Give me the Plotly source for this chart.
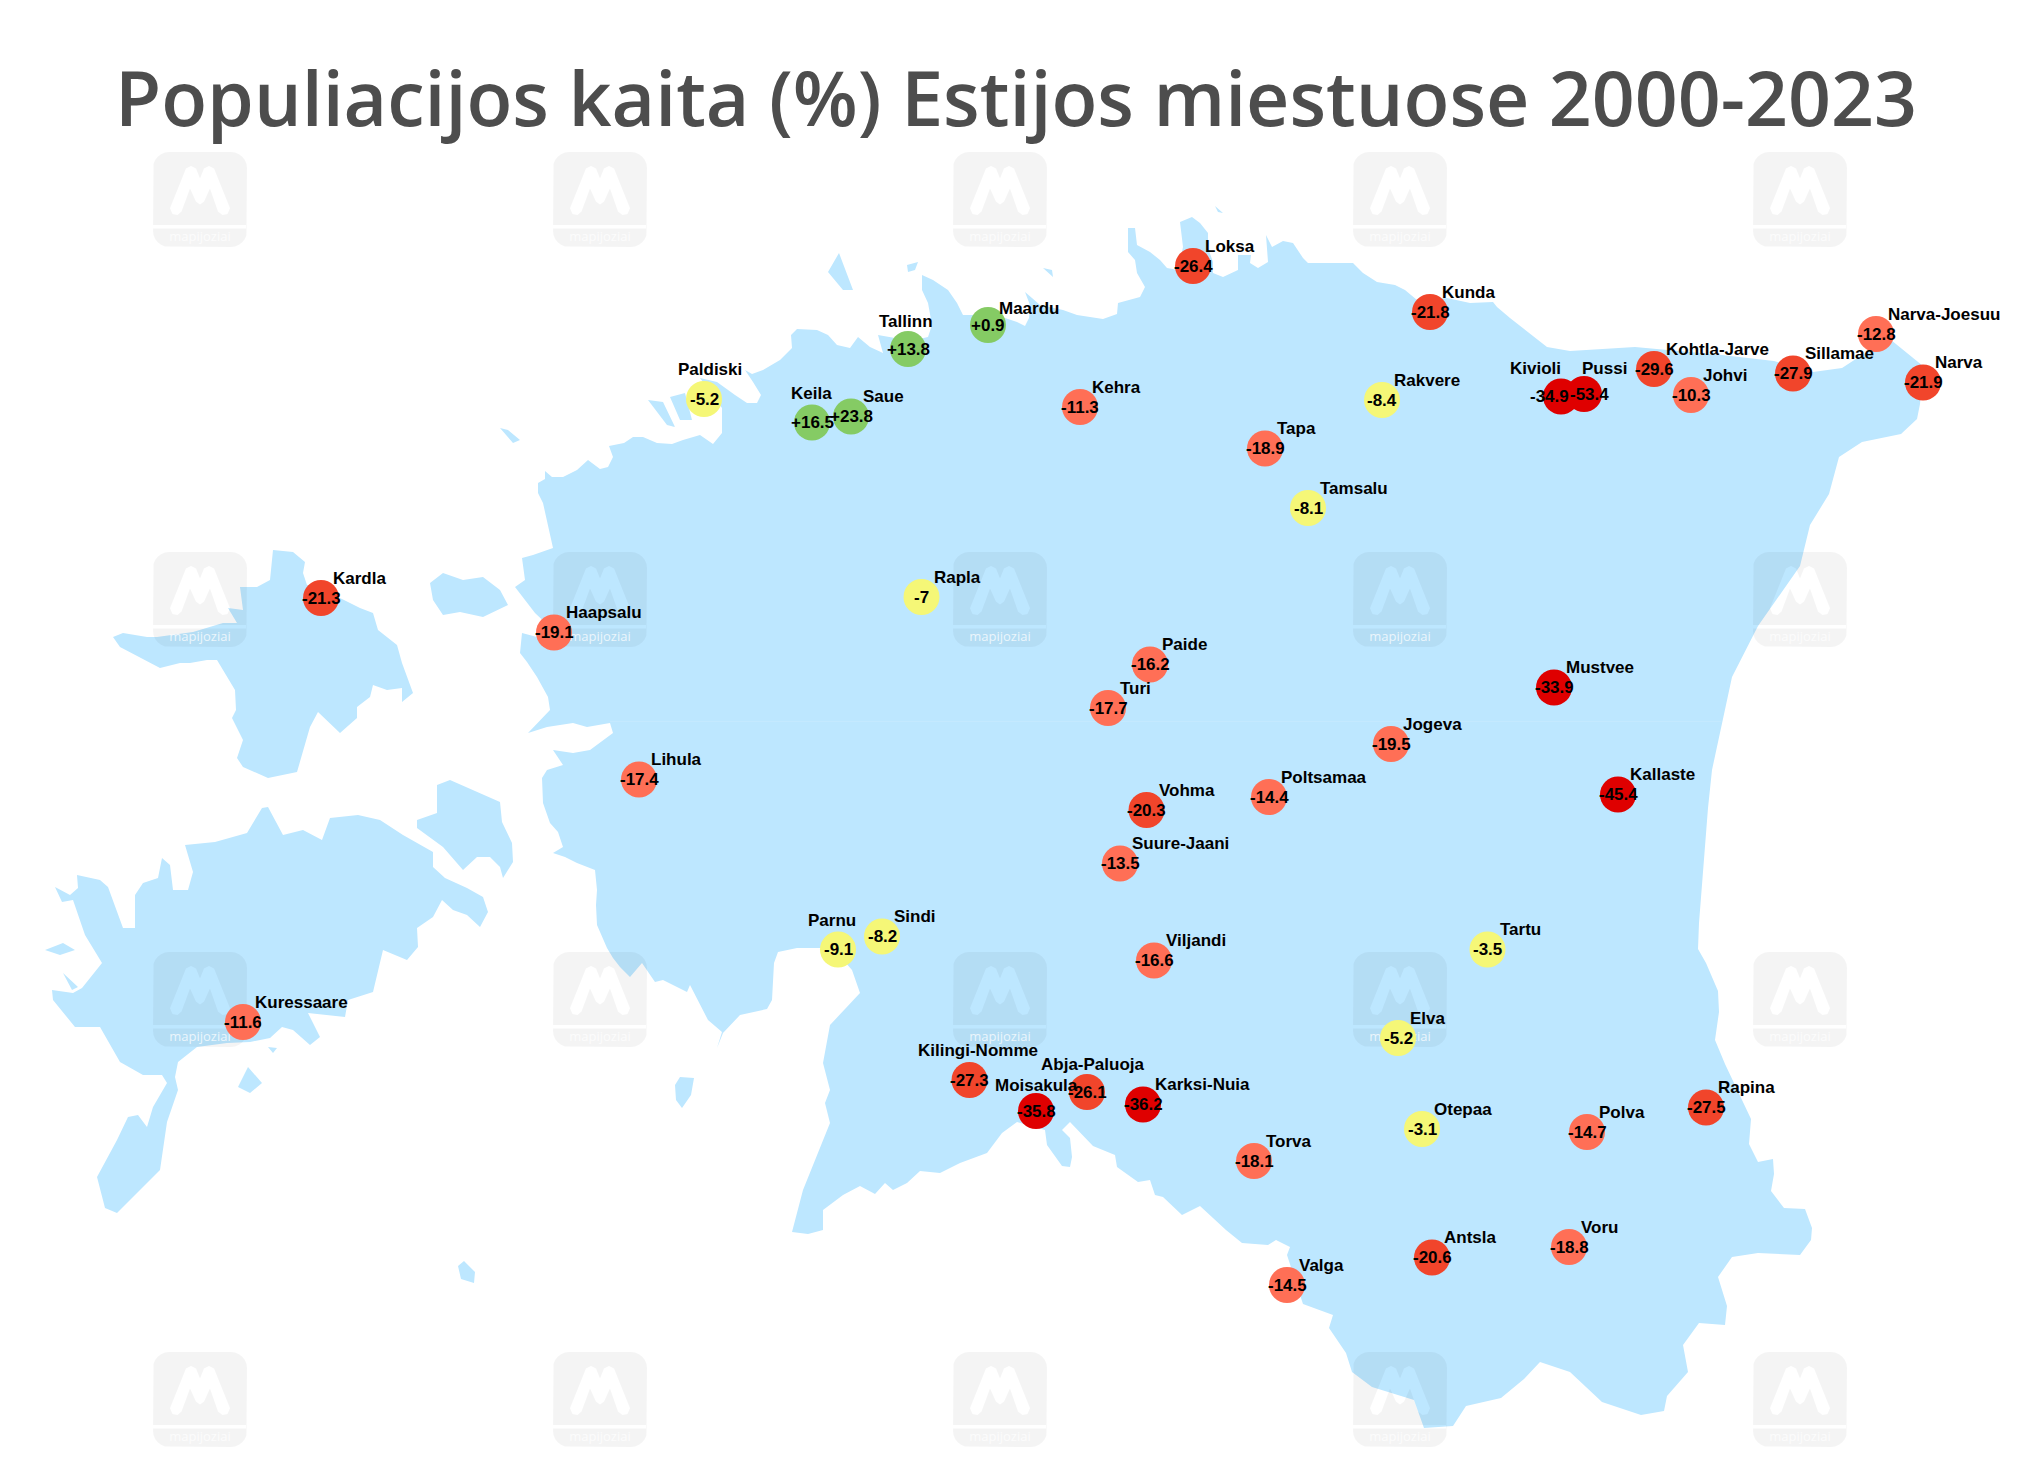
import numpy as np
import plotly.graph_objects as go

# towns (map_x / map_y are map units of the drawing)
city_names = ["Kardla", "Haapsalu", "Paldiski", "Keila", "Saue", "Tallinn", "Maardu", "Rapla", "Lihula",
              "Loksa", "Kunda", "Kehra", "Rakvere", "Tapa", "Tamsalu", "Kivioli", "Pussi", "Kohtla-Jarve",
              "Johvi", "Sillamae", "Narva-Joesuu", "Narva", "Paide", "Turi", "Mustvee", "Jogeva", "Poltsamaa",
              "Kallaste", "Vohma", "Suure-Jaani", "Viljandi", "Tartu", "Elva", "Abja-Paluoja", "Karksi-Nuia",
              "Moisakula", "Otepaa", "Polva", "Rapina", "Torva", "Antsla", "Voru", "Valga", "Kuressaare",
              "Parnu", "Sindi", "Kilingi-Nomme"]
pct_change = [-21.3, -19.1, -5.2, 16.5, 23.8, 13.8, 0.9, -7, -17.4,
              -26.4, -21.8, -11.3, -8.4, -18.9, -8.1, -34.9, -53.4, -29.6,
              -10.3, -27.9, -12.8, -21.9, -16.2, -17.7, -33.9, -19.5, -14.4,
              -45.4, -20.3, -13.5, -16.6, -3.5, -5.2, -26.1, -36.2,
              -35.8, -3.1, -14.7, -27.5, -18.1, -20.6, -18.8, -14.5, -11.6,
              -9.1, -8.2, -27.3]
map_x = [321, 554, 704, 812, 851, 908, 988, 921.5, 639,
         1193, 1430, 1080, 1382, 1265, 1308, 1561, 1584, 1654,
         1691, 1793, 1876, 1923, 1150, 1108, 1554, 1391, 1269,
         1618, 1146.5, 1120, 1154, 1487.5, 1398, 1087, 1143,
         1036, 1422, 1587, 1706, 1254, 1432, 1569, 1287, 243,
         838, 882, 969.5]
map_y = [598, 632.5, 399, 422.5, 416.5, 349, 325, 597, 779.5,
         266, 312, 407, 400, 448.5, 508, 396.5, 394, 369,
         395, 373.5, 334, 382.5, 664.5, 708, 687.5, 744, 797,
         794.5, 810, 863.5, 960.5, 949.5, 1038, 1092, 1104.5,
         1111, 1129, 1132, 1107.5, 1161, 1257.5, 1247, 1285, 1022,
         949.5, 936.5, 1080]

# coast outlines
mainland = [
    (553, 548), (548, 527), (543, 503), (538, 493), (538, 483), (545, 479), (545, 471), (552, 477), (563, 477),
    (577, 470), (588, 460), (600, 469), (608, 467), (613, 457), (609, 446), (624, 443), (633, 437), (643, 437),
    (657, 443), (672, 444), (683, 440), (700, 435), (713, 444), (722, 433), (722, 423), (722, 408), (700, 378),
    (717, 382), (735, 395), (747, 403), (757, 403), (761, 395), (753, 382), (745, 370), (752, 374), (763, 370),
    (780, 360), (792, 348), (791, 335), (797, 329), (817, 330), (828, 335), (837, 345), (850, 348), (858, 337),
    (870, 347), (883, 353), (878, 335), (895, 338), (905, 345), (915, 340), (928, 337), (932, 325), (928, 303),
    (922, 290), (922, 275), (933, 280), (948, 290), (957, 303), (963, 315), (973, 315), (990, 318), (1005, 318),
    (1017, 322), (1025, 326), (1029, 318), (1030, 305), (1025, 292), (1032, 298), (1040, 305), (1063, 310),
    (1077, 315), (1103, 319), (1117, 314), (1118, 303), (1140, 297), (1145, 287), (1137, 273), (1135, 260),
    (1128, 252), (1128, 228), (1135, 228), (1137, 245), (1150, 252), (1160, 260), (1167, 268), (1178, 270),
    (1183, 247), (1180, 222), (1192, 217), (1200, 223), (1208, 233), (1208, 248), (1213, 262), (1213, 273),
    (1223, 277), (1238, 270), (1238, 255), (1251, 255), (1250, 263), (1258, 268), (1268, 262), (1266, 235),
    (1272, 247), (1283, 241), (1293, 243), (1303, 258), (1308, 263), (1353, 263), (1363, 273), (1377, 282),
    (1395, 285), (1405, 290), (1417, 300), (1447, 298), (1470, 303), (1493, 302), (1497, 307), (1510, 318),
    (1531, 334), (1547, 347), (1570, 351), (1635, 347), (1722, 355), (1774, 361), (1813, 372), (1842, 368),
    (1862, 355), (1891, 340), (1923, 366), (1920, 404), (1917, 419), (1901, 434), (1862, 442), (1839, 457),
    (1829, 494), (1810, 525), (1800, 566), (1758, 626), (1732, 677), (1722, 724), (1712, 770), (1708, 808),
    (1703, 872), (1699, 923), (1698, 949), (1706, 963), (1718, 991), (1719, 1012), (1715, 1040), (1725, 1064),
    (1751, 1119), (1749, 1144), (1758, 1162), (1773, 1159), (1774, 1174), (1771, 1191), (1784, 1208), (1805, 1209),
    (1812, 1228), (1811, 1240), (1800, 1255), (1758, 1253), (1732, 1257), (1718, 1277), (1727, 1306), (1725, 1325),
    (1699, 1323), (1683, 1345), (1688, 1372), (1667, 1396), (1664, 1411), (1641, 1415), (1602, 1402), (1570, 1372),
    (1540, 1362), (1524, 1379), (1501, 1398), (1466, 1406), (1453, 1426), (1424, 1428), (1414, 1400), (1372, 1387),
    (1352, 1372), (1346, 1353), (1329, 1328), (1333, 1315), (1303, 1304), (1287, 1255), (1290, 1247), (1276, 1240),
    (1268, 1245), (1242, 1243), (1226, 1230), (1200, 1206), (1182, 1215), (1163, 1197), (1155, 1195), (1150, 1180),
    (1138, 1182), (1117, 1167), (1115, 1155), (1093, 1146), (1070, 1122), (1062, 1130), (1070, 1138), (1072, 1157),
    (1070, 1167), (1062, 1166), (1047, 1145), (1045, 1130), (1017, 1122), (1002, 1133), (987, 1153), (960, 1163),
    (940, 1173), (920, 1171), (907, 1183), (893, 1190), (885, 1183), (875, 1194), (860, 1186), (843, 1195),
    (823, 1210), (823, 1230), (808, 1234), (792, 1232), (803, 1190), (813, 1165), (830, 1123), (825, 1103),
    (830, 1090), (823, 1063), (830, 1025), (860, 993), (852, 970), (837, 953), (820, 948), (797, 948), (778, 952),
    (774, 963), (772, 1000), (767, 1009), (740, 1015), (723, 1033), (717, 1048), (722, 1032), (708, 1020),
    (690, 985), (687, 992), (663, 980), (655, 982), (642, 963), (638, 968), (630, 977), (620, 967), (613, 958),
    (607, 948), (597, 925), (596, 905), (597, 890), (595, 870), (577, 863), (565, 857), (553, 853), (563, 847),
    (558, 832), (550, 823), (543, 803), (542, 778), (547, 770), (563, 765), (553, 750), (573, 753), (590, 750),
    (613, 733), (610, 723), (587, 727), (573, 723), (547, 727), (528, 733), (550, 710), (548, 697), (537, 677),
    (527, 662), (520, 653), (522, 633), (537, 637), (553, 630), (563, 598), (580, 604), (590, 612), (565, 612),
    (553, 630), (535, 613), (515, 587), (525, 580), (522, 558), (533, 555),
]
hiiumaa = [
    (113, 637), (123, 633), (147, 637), (157, 637), (193, 632), (223, 623), (237, 623), (228, 608), (243, 610),
    (240, 587), (257, 587), (270, 580), (273, 550), (293, 552), (305, 562), (303, 573), (307, 585), (340, 598),
    (360, 608), (373, 613), (378, 630), (397, 645), (402, 663), (413, 693), (402, 702), (402, 688), (387, 690),
    (373, 685), (370, 697), (357, 707), (357, 718), (340, 733), (318, 712), (310, 727), (297, 772), (268, 778),
    (243, 767), (237, 758), (243, 740), (232, 718), (236, 710), (235, 690), (217, 660), (207, 660), (190, 663),
    (180, 663), (160, 668), (145, 660), (120, 647),
]
saaremaa = [
    (185, 845), (215, 842), (247, 833), (262, 808), (268, 807), (283, 835), (303, 830), (322, 840), (330, 818),
    (358, 815), (380, 820), (403, 835), (433, 852), (433, 867), (445, 878), (467, 888), (483, 897), (488, 912),
    (480, 927), (467, 915), (453, 910), (442, 900), (433, 917), (417, 928), (418, 947), (407, 960), (383, 950),
    (373, 992), (348, 1000), (345, 1017), (308, 1013), (320, 1037), (310, 1045), (293, 1030), (282, 1027),
    (270, 1038), (250, 1042), (227, 1043), (197, 1047), (178, 1062), (175, 1077), (178, 1090), (167, 1122),
    (160, 1170), (133, 1197), (117, 1213), (105, 1208), (97, 1177), (117, 1140), (128, 1117), (138, 1115),
    (147, 1127), (153, 1107), (167, 1083), (162, 1075), (143, 1075), (120, 1062), (100, 1027), (75, 1027),
    (53, 1000), (52, 990), (73, 993), (82, 988), (102, 963), (85, 935), (73, 900), (62, 902), (55, 887), (70, 895),
    (78, 888), (77, 875), (100, 880), (108, 887), (123, 928), (135, 928), (135, 895), (143, 883), (158, 878),
    (162, 858), (170, 865), (173, 890), (188, 890), (193, 872),
]
muhu = [(437, 785), (450, 780), (500, 802), (502, 822), (512, 843), (513, 862), (503, 878), (500, 867), (490, 857),
        (477, 857), (463, 870), (443, 847), (417, 828), (417, 820), (437, 813), (437, 800)]
vormsi = [(430, 583), (443, 573), (463, 580), (483, 577), (500, 590), (508, 605), (483, 617), (460, 612), (443, 615),
          (433, 600)]
small_islands = [
    [(45, 950), (63, 943), (75, 950), (60, 955)],
    [(63, 973), (78, 987), (72, 990)],
    [(458, 1266), (464, 1261), (475, 1272), (474, 1283), (461, 1279)],
    [(238, 1087), (248, 1067), (262, 1083), (250, 1093)],
    [(268, 1047), (277, 1048), (273, 1053)],
    [(675, 1085), (680, 1077), (694, 1078), (691, 1095), (682, 1108), (676, 1100)],
    [(828, 272), (839, 253), (853, 290), (843, 290)],
    [(907, 265), (918, 262), (915, 270), (908, 272)],
    [(648, 400), (663, 402), (675, 427), (667, 425)],
    [(670, 397), (685, 393), (692, 420), (680, 420)],
    [(500, 428), (508, 430), (520, 440), (513, 443)],
    [(1043, 268), (1052, 270), (1053, 277)],
    [(1215, 206), (1223, 213), (1218, 212)],
]
seam_x = [610, 1721]
seam_y = [721.5, 721.5]

# town names sit up-right of the dot apart from these
name_shift = {"Paldiski": (-28, -30), "Keila": (-23, -29), "Tallinn": (-31, -28), "Kivioli": (-53, -28),
              "Pussi": (-4, -26), "Abja-Paluoja": (-48, -28), "Moisakula": (-43, -26), "Parnu": (-32, -29),
              "Kilingi-Nomme": (-54, -30), "Maardu": (9, -17)}
value_shift = {"Kivioli": -12, "Pussi": 5}


def bin_color(v):
    if v > 0:
        return "#85CB64"
    if v > -10:
        return "#F5F777"
    if v > -20:
        return "#FF6F56"
    if v > -30:
        return "#F1452B"
    return "#DF0000"


def watermark_outline(cx, cy):
    # rounded box with the M and the band left out as holes
    r = 16
    xs, ys = [], []
    for ccx, ccy, start in [(47 - r, -47.5 + r, -90), (47 - r, 47.5 - r, 0), (-47 + r, 47.5 - r, 90), (-47 + r, -47.5 + r, 180)]:
        t = np.radians(np.linspace(start, start + 90, 7))
        xs += list(cx + ccx + r * np.cos(t))
        ys += list(cy + ccy + r * np.sin(t))
    xs += [xs[0], None]
    ys += [ys[0], None]
    m = [(-30, 8.8), (-27.5, 14.5), (-22.5, 15.5), (-18.5, 12), (-10, -11), (-4, 2), (0, 5), (4, 2), (10, -11), (18, 12),
         (22.5, 15.5), (27.5, 14.5), (30, 8.8), (14, -31), (9, -33.5), (4, -31), (0, -21), (-4, -31), (-9, -33.5), (-14, -31)]
    band = [(-47, 25.5), (-47, 29), (47, 29), (47, 25.5)]
    for hole in (m, band):
        xs += [cx + p[0] for p in hole] + [cx + hole[0][0], None]
        ys += [cy + p[1] for p in hole] + [cy + hole[0][1], None]
    return xs, ys


fig = go.Figure()

# land
land_x, land_y = [], []
for poly in [mainland, hiiumaa, saaremaa, muhu, vormsi] + small_islands:
    land_x += [p[0] for p in poly] + [poly[0][0], None]
    land_y += [p[1] for p in poly] + [poly[0][1], None]
fig.add_trace(go.Scatter(x=land_x, y=land_y, mode="lines", fill="toself", fillcolor="#BDE7FF",
                         line=dict(width=0, color="#BDE7FF"), hoverinfo="skip"))
fig.add_trace(go.Scatter(x=seam_x, y=seam_y, mode="lines", line=dict(width=1, color="#C4E9FF"), hoverinfo="skip"))

# watermark grid
wm_x, wm_y, wm_tx, wm_ty = [], [], [], []
for cy in [199.5, 599.5, 999.5, 1399.5]:
    for cx in [200, 600, 1000, 1400, 1800]:
        a, b = watermark_outline(cx, cy)
        wm_x += a
        wm_y += b
        wm_tx.append(cx)
        wm_ty.append(cy + 38)
fig.add_trace(go.Scatter(x=wm_x, y=wm_y, mode="lines", fill="toself", fillcolor="rgba(0,0,0,0.045)",
                         line=dict(width=0), hoverinfo="skip"))
fig.add_trace(go.Scatter(x=wm_tx, y=wm_ty, mode="text", text=["mapijoziai"] * len(wm_tx),
                         textposition="middle center",
                         textfont=dict(family="Open Sans", size=13, color="rgba(255,255,255,0.75)"), hoverinfo="skip"))

# towns
fig.add_trace(go.Scatter(x=map_x, y=map_y, mode="markers",
                         marker=dict(size=36, color=[bin_color(v) for v in pct_change], line=dict(width=0)),
                         text=city_names, hoverinfo="text"))

for name, v, x, y in zip(city_names, pct_change, map_x, map_y):
    dx, dy = name_shift.get(name, (10, -20))
    fig.add_annotation(x=x, y=y, text=f"<b>{name}</b>", showarrow=False, xanchor="left", yanchor="middle",
                       xshift=dx, yshift=-dy, font=dict(family="Liberation Sans", size=17, color="#000000"))
    fig.add_annotation(x=x, y=y, text=f"<b>{v:+g}</b>", showarrow=False, xanchor="center", yanchor="middle",
                       xshift=value_shift.get(name, 0), font=dict(family="Liberation Sans", size=17, color="#000000"))

fig.update_layout(
    width=2036,
    height=1476,
    margin=dict(l=0, r=0, t=0, b=0),
    showlegend=False,
    paper_bgcolor="white",
    plot_bgcolor="white",
    title=dict(text="Populiacijos kaita (%) Estijos miestuose 2000-2023", x=1016 / 2036, y=1 - 100 / 1476,
               xanchor="center", yanchor="middle",
               font=dict(family="Open Sans", size=75.2, color="#4D4D4D", weight=600)),
    xaxis=dict(range=[0, 2036], visible=False, fixedrange=True),
    yaxis=dict(range=[1476, 0], visible=False, fixedrange=True),
)

fig.write_html("out.html", config={"displayModeBar": False}, post_script="document.body.style.margin='0';")
